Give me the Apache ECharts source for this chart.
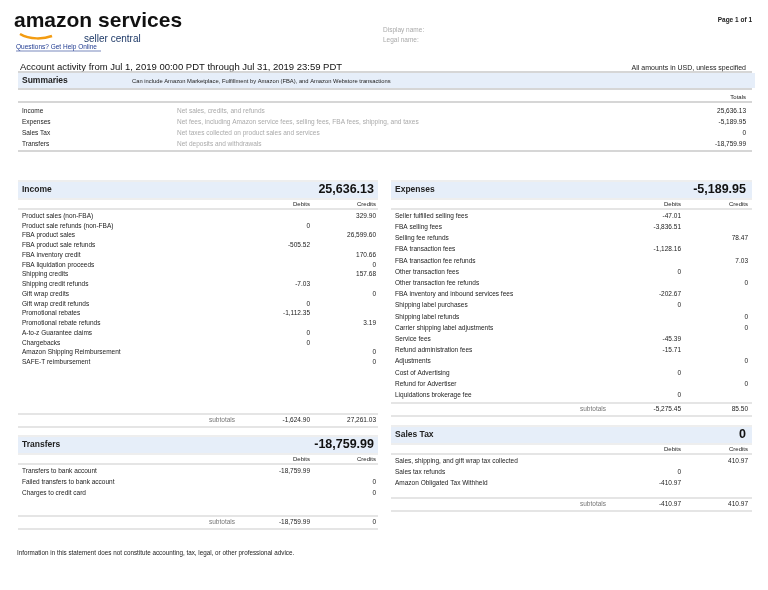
<!DOCTYPE html><html><head><meta charset="utf-8">
<script src="https://cdn.jsdelivr.net/npm/echarts@6/dist/echarts.min.js"></script>
<style>html,body{margin:0;background:#fff}#c{width:768px;height:590px}</style></head><body><div id="c"></div>
<script>
const summaryLabels=['Income','Expenses','Sales Tax','Transfers'];
const summaryDescs=['Net sales, credits, and refunds','Net fees, including Amazon service fees, selling fees, FBA fees, shipping, and taxes','Net taxes collected on product sales and services','Net deposits and withdrawals'];
const summaryTotals=['25,636.13','-5,189.95','0','-18,759.99'];
const incomeLabels=['Product sales (non-FBA)','Product sale refunds (non-FBA)','FBA product sales','FBA product sale refunds','FBA inventory credit','FBA liquidation proceeds','Shipping credits','Shipping credit refunds','Gift wrap credits','Gift wrap credit refunds','Promotional rebates','Promotional rebate refunds','A-to-z Guarantee claims','Chargebacks','Amazon Shipping Reimbursement','SAFE-T reimbursement'];
const incomeDebits=['','0','','-505.52','','','','-7.03','','0','-1,112.35','','0','0','',''];
const incomeCredits=['329.90','','26,599.60','','170.66','0','157.68','','0','','','3.19','','','0','0'];
const incomeTotals=['25,636.13','-1,624.90','27,261.03'];
const expenseLabels=['Seller fulfilled selling fees','FBA selling fees','Selling fee refunds','FBA transaction fees','FBA transaction fee refunds','Other transaction fees','Other transaction fee refunds','FBA inventory and inbound services fees','Shipping label purchases','Shipping label refunds','Carrier shipping label adjustments','Service fees','Refund administration fees','Adjustments','Cost of Advertising','Refund for Advertiser','Liquidations brokerage fee'];
const expenseDebits=['-47.01','-3,836.51','','-1,128.16','','0','','-202.67','0','','','-45.39','-15.71','','0','','0'];
const expenseCredits=['','','78.47','','7.03','','0','','','0','0','','','0','','0',''];
const expenseTotals=['-5,189.95','-5,275.45','85.50'];
const transferLabels=['Transfers to bank account','Failed transfers to bank account','Charges to credit card'];
const transferDebits=['-18,759.99','',''];
const transferCredits=['','0','0'];
const transferTotals=['-18,759.99','-18,759.99','0'];
const taxLabels=['Sales, shipping, and gift wrap tax collected','Sales tax refunds','Amazon Obligated Tax Withheld'];
const taxDebits=['','0','-410.97'];
const taxCredits=['410.97','',''];
const taxTotals=['0','-410.97','410.97'];

const F='Liberation Sans, Arial, sans-serif';
const G=[];
function T(x,y,s,o={}){G.push({type:'text',x:x,y:y,style:Object.assign({text:s,fontFamily:F,fontSize:6.5,fill:'#222',align:'left',verticalAlign:'middle'},o)});}
function L(x1,x2,y,c='#c8c8c8',w=1.5){G.push({type:'line',shape:{x1:x1,y1:y,x2:x2,y2:y},style:{stroke:c,lineWidth:w}});}
function R(x,y,w,h,c){G.push({type:'rect',shape:{x:x,y:y,width:w,height:h},style:{fill:c}});}

// header
T(14,21,'amazon services',{fontSize:21,fill:'#111',fontFamily:'Liberation Sans Narrow, Arial Narrow, sans-serif',fontWeight:'bold'});
G.push({type:'bezierCurve',shape:{x1:20,y1:34,x2:52,y2:36,cpx1:30,cpy1:40,cpx2:44,cpy2:39},style:{stroke:'#f39c12',lineWidth:2.5,fill:null}});
T(84,39,'seller central',{fontSize:10,fill:'#1f3a68'});
T(16,47,'Questions? Get Help Online',{fontSize:6.5,fill:'#1f3a90'});
L(16,101,51,'#1f3a90',0.6);
T(383,30,'Display name:',{fill:'#aaa'});T(383,40,'Legal name:',{fill:'#aaa'});
T(752,20,'Page 1 of 1',{align:'right',fontWeight:'bold'});
T(20,67,'Account activity from Jul 1, 2019 00:00 PDT through Jul 31, 2019 23:59 PDT',{fontSize:9.5,fill:'#111'});
T(746,68,'All amounts in USD, unless specified',{align:'right',fontSize:7});
L(18,752,72);
R(18,73,737,15,'#e6eef9');
T(22,81,'Summaries',{fontSize:8.5,fontWeight:'bold'});
T(132,81,'Can include Amazon Marketplace, Fulfillment by Amazon (FBA), and Amazon Webstore transactions',{fontSize:5.8});
L(18,752,89);
T(746,97,'Totals',{align:'right',fontSize:6});
L(18,752,102);
summaryLabels.forEach((s,i)=>{const y=111+i*11;T(22,y,s);T(177,y,summaryDescs[i],{fill:'#aaa'});T(746,y,summaryTotals[i],{align:'right'});});
L(18,752,151);

function section(x0,x1,yTop,title,tot,labels,deb,cred,step,subY,dx,cx){
  L(x0,x1,yTop-1,'#ddd',1);
  R(x0,yTop,x1-x0,16,'#e6eef9');
  T(x0+4,yTop+8,title,{fontSize:8.5,fontWeight:'bold'});
  T(cx-2,yTop+8,tot[0],{align:'right',fontSize:12.5,fontWeight:'bold',fill:'#111'});
  L(x0,x1,yTop+17,'#ddd',1);
  T(dx,yTop+22,'Debits',{align:'right',fontSize:6});T(cx,yTop+22,'Credits',{align:'right',fontSize:6});
  L(x0,x1,yTop+27,'#ccc',1.2);
  labels.forEach((s,i)=>{const y=yTop+34+i*step;T(x0+4,y,s);if(deb[i]!=='')T(dx,y,deb[i],{align:'right'});if(cred[i]!=='')T(cx,y,cred[i],{align:'right'});});
  L(x0,x1,subY-6,'#ccc',1.2);
  T(dx-88,subY,'subtotals',{align:'center',fill:'#777'});
  T(dx,subY,tot[1],{align:'right'});T(cx,subY,tot[2],{align:'right'});
  L(x0,x1,subY+7,'#ccc',1.2);
}
section(18,378,182,'Income',incomeTotals,incomeLabels,incomeDebits,incomeCredits,9.75,420,310,376);
section(18,378,437,'Transfers',transferTotals,transferLabels,transferDebits,transferCredits,11,522,310,376);
section(391,752,182,'Expenses',expenseTotals,expenseLabels,expenseDebits,expenseCredits,11.2,409,681,748);
section(391,752,427,'Sales Tax',taxTotals,taxLabels,taxDebits,taxCredits,11,504,681,748);
T(17,553,'Information in this statement does not constitute accounting, tax, legal, or other professional advice.',{fontSize:6.3});

const chart=echarts.init(document.getElementById('c'));
chart.setOption({backgroundColor:'#fff',graphic:{elements:G}});
</script></body></html>
